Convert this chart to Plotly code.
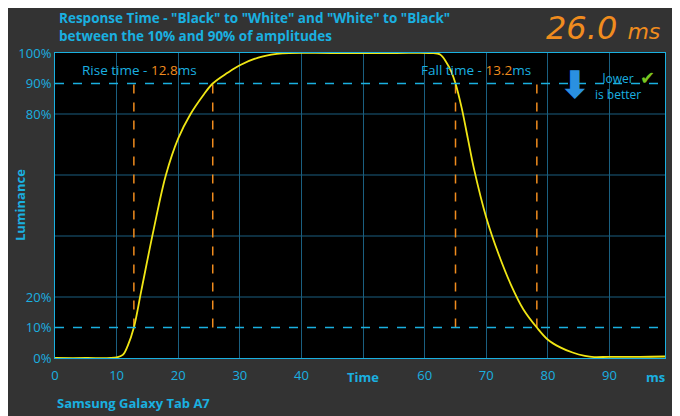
import plotly.graph_objects as go

t = [0, 5, 10, 11, 11.8, 12.8, 14, 16, 18, 20, 22, 24, 25.6, 28, 30, 33, 36, 38, 45, 55, 61, 62.5, 63.5, 64.3, 65, 66, 67, 68, 70, 72, 74, 76, 78.2, 80, 82, 84, 86, 87.5, 90, 95, 99]
lum = [0, 0, 0.2, 1, 4, 10, 22, 42, 60, 72, 80, 86, 90, 93.5, 96, 98.5, 99.7, 100, 100, 100, 100, 99.5, 97, 94, 90, 82, 72, 62, 46, 34, 24, 16, 10, 6, 3.5, 1.8, 0.7, 0.3, 0.4, 0.4, 0.5]
rise = [12.8, 25.6]
fall = [65.0, 78.2]
xt = [0, 10, 20, 30, 40, 50, 60, 70, 80, 90]
xl = ["0", "10", "20", "30", "40", "", "60", "70", "80", "90"]
yt = [0, 10, 20, 80, 90, 100]

CY = "#1ab0e0"; OR = "#f08c1e"
fig = go.Figure()
for x in rise + fall:
    fig.add_trace(go.Scatter(x=[x, x], y=[10, 90], mode="lines", line=dict(color=OR, dash="dash", width=1.5), hoverinfo="skip"))
fig.add_trace(go.Scatter(x=t, y=lum, mode="lines", line=dict(color="#f0e614", width=1.8, shape="spline"), hoverinfo="skip"))
for y in [10, 90]:
    fig.add_hline(y=y, line=dict(color=CY, dash="dash", width=1.5))
for y in [20, 40, 60, 80]:
    fig.add_hline(y=y, line=dict(color="#1a5f80", width=1), layer="below")

fig.update_layout(
    width=680, height=416, showlegend=False,
    paper_bgcolor="#333333", plot_bgcolor="#000000",
    margin=dict(l=47, r=23, t=45, b=66, autoexpand=False),
    font=dict(family="Open Sans", color=CY, size=13),
    xaxis=dict(range=[0, 99], tickvals=xt, ticktext=xl, showgrid=True, gridcolor="#1a5f80", zeroline=False,
               showline=True, linecolor=CY, mirror=True, tickfont=dict(color=CY, size=13), ticks="", ticklabelstandoff=5),
    yaxis=dict(range=[0, 100], tickvals=yt, ticktext=[f"{v}%" for v in yt], showgrid=False, zeroline=False,
               showline=True, linecolor=CY, mirror=True, tickfont=dict(color=CY, size=13), ticks=""),
)
ann = [
    dict(x=0.003, y=1.15, xref="paper", yref="paper", xanchor="left", yanchor="top", align="left",
         text='<b>Response Time - "Black" to "White" and "White" to "Black"<br>between the 10% and 90% of amplitudes</b>', font=dict(size=13.5, color=CY), showarrow=False),
    dict(x=0.995, y=1.15, xref="paper", yref="paper", xanchor="right", yanchor="top",
         text='<i>26.0</i> <span style="font-size:22px"><i>ms</i></span>', font=dict(size=32, color=OR, family="DejaVu Sans"), showarrow=False),
    dict(x=4, y=94.5, xanchor="left", yanchor="middle", text='Rise time - <span style="color:#f08c1e">12.8</span>ms', font=dict(size=13.5, color=CY), showarrow=False),
    dict(x=59, y=94.5, xanchor="left", yanchor="middle", text='Fall time - <span style="color:#f08c1e">13.2</span>ms', font=dict(size=13.5, color=CY), showarrow=False),
    dict(x=84.4, y=89.5, xanchor="center", yanchor="middle", text='<b>⬇</b>', font=dict(size=38, color="#2a90e0", family="DejaVu Sans"), showarrow=False),
    dict(x=91.4, y=89, xanchor="center", yanchor="middle", text='lower<br>is better', font=dict(size=12, color=CY), showarrow=False),
    dict(x=96.2, y=92, xanchor="center", yanchor="middle", text='<b>✔</b>', font=dict(size=18, color="#7ac520", family="DejaVu Sans"), showarrow=False),
    dict(x=50, y=-0.062, yref="paper", yanchor="middle", text='<b>Time</b>', font=dict(size=13, color=CY), showarrow=False),
    dict(x=97.5, y=-0.062, yref="paper", yanchor="middle", text='<b>ms</b>', font=dict(size=13, color=CY), showarrow=False),
    dict(x=-0.04, y=0.5, xref="paper", yref="paper", xanchor="right", textangle=-90, text='<b>Luminance</b>', font=dict(size=13, color=CY), showarrow=False),
    dict(x=0.0, y=-0.11, xref="paper", yref="paper", xanchor="left", yanchor="top", text='<b>Samsung Galaxy Tab A7</b>', font=dict(size=13, color=CY), showarrow=False),
]
fig.update_layout(annotations=ann)
fig.write_html("out.html")
